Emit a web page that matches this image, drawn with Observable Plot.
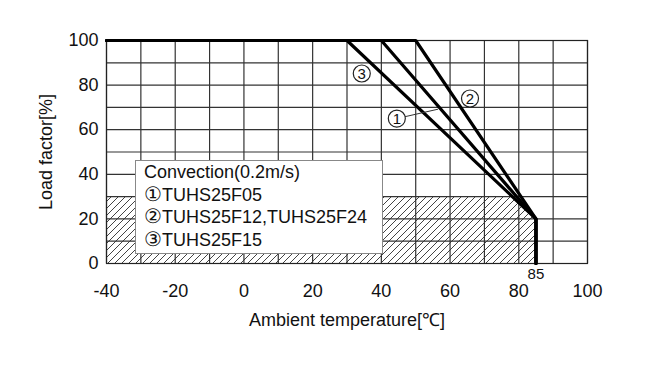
<!DOCTYPE html>
<html>
<head>
<meta charset="utf-8">
<script src="https://cdn.jsdelivr.net/npm/d3@7"></script>
<script src="https://cdn.jsdelivr.net/npm/@observablehq/plot@0.6"></script>
<style>
  html, body { margin: 0; padding: 0; background: #fff; }
  #wrap { position: relative; width: 650px; height: 369px; font-family: "Liberation Sans", Arial, sans-serif; }
  #legend {
    position: absolute; left: 135px; top: 160px; width: 238px; height: 92px;
    background: #fff; border: 1px solid #888; box-sizing: content-box;
    font-size: 18px; line-height: 22.5px; color: #111; padding: 0 0 0 8px;
  }
  #legend div { white-space: nowrap; }
  #legend span.c { font-size: 20px; line-height: 20px; }
</style>
</head>
<body>
<div id="wrap"><div id="legend"></div></div>
<script>
// ---- data ----
const xTicks = [-40, -20, 0, 20, 40, 60, 80, 100];
const yTicks = [0, 20, 40, 60, 80, 100];
const xGrid = [-40, -30, -20, -10, 0, 10, 20, 30, 40, 50, 60, 70, 80, 90, 100];
const yGrid = [0, 10, 20, 30, 40, 50, 60, 70, 80, 90, 100];

const curve1Temp = [-40, 40, 85, 85];
const curve1Load = [100, 100, 20, 0];
const curve2Temp = [-40, 50, 85, 85];
const curve2Load = [100, 100, 20, 0];
const curve3Temp = [-40, 30, 85, 85];
const curve3Load = [100, 100, 20, 0];

const hatchTemp = [-40, 78, 85];
const hatchLoad = [30, 30, 20];

const markerNames = ["1", "2", "3"];
const markerTemp = [44.5, 65.8, 34.3];
const markerLoad = [65, 74, 85.2];
const leaderFrom = [44.5, 65];
const leaderTo = [56.5, 69.2];

const legendTitle = "Convection(0.2m/s)";
const legendMarks = ["①", "②", "③"];
const legendNames = ["TUHS25F05", "TUHS25F12,TUHS25F24", "TUHS25F15"];

const toPts = (xs, ys) => xs.map((x, i) => ({x, y: ys[i]}));
const curves = [toPts(curve1Temp, curve1Load), toPts(curve2Temp, curve2Load), toPts(curve3Temp, curve3Load)];
const hatch = toPts(hatchTemp, hatchLoad);
const markers = markerNames.map((n, i) => ({n, x: markerTemp[i], y: markerLoad[i]}));

const defsMark = () => {
  const g = d3.create("svg:g");
  const p = g.append("defs").append("pattern")
    .attr("id", "hatch").attr("patternUnits", "userSpaceOnUse")
    .attr("width", 7).attr("height", 7);
  p.append("path").attr("d", "M-1,1 L1,-1 M0,7 L7,0 M6,8 L8,6")
    .attr("stroke", "#444").attr("stroke-width", 1).attr("fill", "none");
  return g.node();
};

const fmt = d => String(d);

const chart = Plot.plot({
  width: 650, height: 369,
  marginLeft: 106, marginRight: 63, marginTop: 40, marginBottom: 106,
  style: {fontFamily: "Liberation Sans, Arial, sans-serif", fontSize: "18px", color: "#111", background: "#fff"},
  x: {domain: [-40, 100]},
  y: {domain: [0, 100]},
  marks: [
    defsMark,
    Plot.areaY(hatch, {x: "x", y: "y", y1: 0, fill: "url(#hatch)", curve: "linear"}),
    Plot.gridX(xGrid, {stroke: "#333", strokeOpacity: 1, strokeWidth: 1.2}),
    Plot.gridY(yGrid, {stroke: "#333", strokeOpacity: 1, strokeWidth: 1.2}),
    Plot.frame({stroke: "#222", strokeWidth: 1.2}),
    Plot.axisX(xTicks, {tickSize: 0, tickPadding: 21, tickFormat: fmt, label: "Ambient temperature[℃]", labelAnchor: "center", labelOffset: 62, labelArrow: "none"}),
    Plot.axisY(yTicks, {tickSize: 0, tickPadding: 8, tickFormat: fmt, label: "Load factor[%]", labelAnchor: "center", labelOffset: 67, labelArrow: "none"}),
    Plot.text([85], {x: d => d, y: 0, text: d => String(d), dy: 11, fontSize: 15, lineAnchor: "middle"}),
    ...curves.map(c => Plot.line(c, {x: "x", y: "y", stroke: "#000", strokeWidth: 3.2, strokeLinejoin: "miter"})),
    Plot.link([0], {x1: leaderFrom[0], y1: leaderFrom[1], x2: leaderTo[0], y2: leaderTo[1], stroke: "#333", strokeWidth: 1}),
    Plot.dot(markers, {x: "x", y: "y", r: 8.5, fill: "#fff", stroke: "#222", strokeWidth: 1.2}),
    Plot.text(markers, {x: "x", y: "y", text: "n", fontSize: 15, fill: "#111", dy: 0.5})
  ]
});

const wrap = document.getElementById("wrap");
wrap.insertBefore(chart, wrap.firstChild);
const legend = document.getElementById("legend");
const t = document.createElement("div"); t.textContent = legendTitle; legend.appendChild(t);
legendNames.forEach((name, i) => {
  const d = document.createElement("div");
  const s = document.createElement("span"); s.className = "c"; s.textContent = legendMarks[i];
  d.appendChild(s); d.appendChild(document.createTextNode(name));
  legend.appendChild(d);
});
</script>
</body>
</html>
